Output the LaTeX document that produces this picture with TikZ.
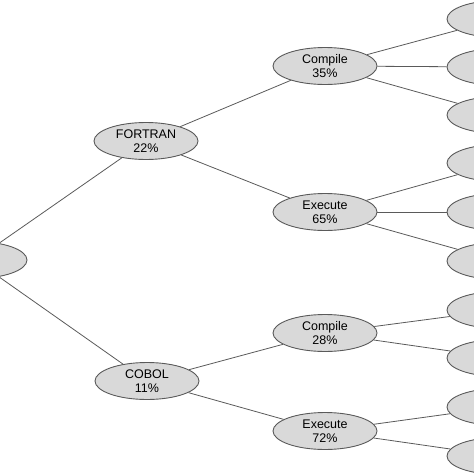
\documentclass[tikz,border=0pt]{standalone}
\usepackage{fontspec}
\setmainfont{Liberation Sans}
\usetikzlibrary{shapes.geometric}
\definecolor{edgegray}{HTML}{5A5A5A}
\definecolor{nodefill}{HTML}{D9D9D9}
\begin{document}
\begin{tikzpicture}[x=1pt,y=-1pt,
  tn/.style={ellipse,draw=edgegray,line width=0.9pt,fill=nodefill,minimum width=104pt,minimum height=37pt,inner sep=0pt,align=center,font=\fontsize{12.5}{14}\selectfont},
  conn/.style={draw=edgegray,line width=0.8pt}]
\useasboundingbox (0,0) rectangle (474,474);
\begin{scope}
\clip (0,0) rectangle (474,474);
\node[tn] (root) at (-25,260) {};
\node[tn] (fortran) at (146,141) {FORTRAN\\22\%};
\node[tn] (cobol) at (147,381) {COBOL\\11\%};
\node[tn] (c1) at (325,66) {Compile\\35\%};
\node[tn] (e1) at (325,212) {Execute\\65\%};
\node[tn] (c2) at (325,333) {Compile\\28\%};
\node[tn] (e2) at (325,431) {Execute\\72\%};
\node[tn] (l1) at (499,19) {};
\node[tn] (l2) at (499,67) {};
\node[tn] (l3) at (499,115) {};
\node[tn] (l4) at (499,163) {};
\node[tn] (l5) at (499,212) {};
\node[tn] (l6) at (499,261) {};
\node[tn] (l7) at (499,310) {};
\node[tn] (l8) at (499,358) {};
\node[tn] (l9) at (499,407) {};
\node[tn] (l10) at (499,456) {};
\begin{scope}[on background layer/.try]
\end{scope}
\draw[conn] (root) -- (fortran);
\draw[conn] (root) -- (cobol);
\draw[conn] (fortran) -- (c1);
\draw[conn] (fortran) -- (e1);
\draw[conn] (cobol) -- (c2);
\draw[conn] (cobol) -- (e2);
\draw[conn] (c1) -- (l1);
\draw[conn] (c1) -- (l2);
\draw[conn] (c1) -- (l3);
\draw[conn] (e1) -- (l4);
\draw[conn] (e1) -- (l5);
\draw[conn] (e1) -- (l6);
\draw[conn] (c2) -- (l7);
\draw[conn] (c2) -- (l8);
\draw[conn] (e2) -- (l9);
\draw[conn] (e2) -- (l10);
\end{scope}
\end{tikzpicture}
\end{document}
